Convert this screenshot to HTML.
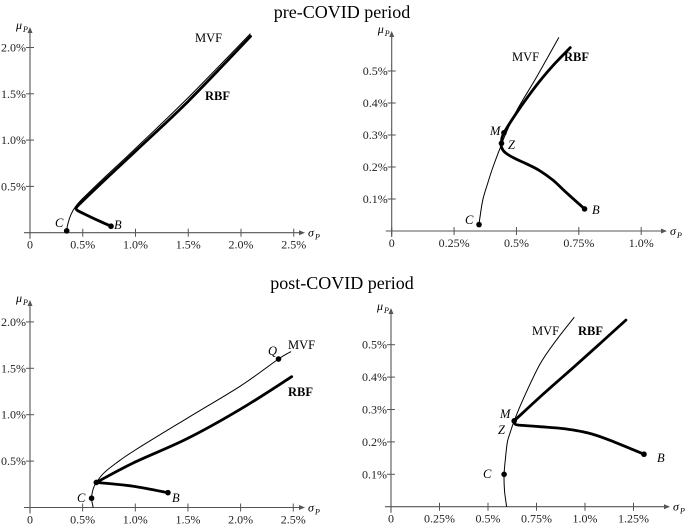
<!DOCTYPE html>
<html><head><meta charset="utf-8"><style>
html,body{margin:0;padding:0;background:#fff}
svg{display:block;font-family:"Liberation Serif",serif}
</style></head><body>
<svg id="c" width="685" height="527" viewBox="0 0 685 527">
<text x="342" y="18" text-anchor="middle" font-size="18">pre-COVID period</text>
<text x="342" y="289" text-anchor="middle" font-size="18">post-COVID period</text>
</svg>
<script>
// Panel data (% units): [sigma, mu]
const p1Mvf=[[0.348,0.02],[0.36,0.1],[0.39,0.2],[0.43,0.28],[0.5,0.37],[0.7,0.59],[1.0,0.91],[1.5,1.46],[2.09,2.15]];
const p1Rbf=[[0.768,0.07],[0.65,0.13],[0.52,0.2],[0.45,0.24],[0.436,0.26],[0.47,0.31],[0.7,0.56],[1.0,0.88],[1.5,1.42],[2.09,2.12]];
const p2Mvf=[[0.35,0.02],[0.355,0.05],[0.366,0.1],[0.385,0.15],[0.406,0.2],[0.44,0.27],[0.455,0.3],[0.5,0.375],[0.58,0.48],[0.67,0.605]];
const p2Rbf=[[0.773,0.069],[0.70,0.12],[0.646,0.159],[0.59,0.19],[0.54,0.21],[0.49,0.228],[0.455,0.245],[0.44,0.262],[0.44,0.28],[0.45,0.307],[0.51,0.38],[0.58,0.455],[0.65,0.52],[0.716,0.573]];
const p3Mvf=[[0.6,0],[0.585,0.1],[0.6,0.2],[0.63,0.27],[0.7,0.37],[0.82,0.48],[1.0,0.62],[1.49,0.96],[2.0,1.31],[2.36,1.6],[2.48,1.68]];
const p3Rbf=[[1.31,0.16],[0.98,0.23],[0.63,0.27],[0.98,0.48],[1.49,0.74],[2.0,1.06],[2.485,1.41]];
const p4Mvf=[[0.596,0],[0.585,0.05],[0.583,0.1],[0.59,0.15],[0.6,0.2],[0.615,0.23],[0.635,0.265],[0.68,0.33],[0.768,0.44],[0.86,0.52],[0.945,0.585]];
const p4Rbf=[[1.304,0.162],[1.15,0.2],[1.026,0.226],[0.9,0.24],[0.768,0.247],[0.66,0.252],[0.64,0.255],[0.635,0.265],[0.78,0.345],[0.94,0.43],[1.08,0.505],[1.211,0.576]];
const p1Dots=[[0.348,0.02],[0.768,0.07]];
const p2Dots=[[0.35,0.02],[0.773,0.069],[0.45,0.307],[0.44,0.274]];
const p3Dots=[[0.585,0.1],[1.31,0.16],[2.36,1.6],[0.63,0.27]];
const p4Dots=[[0.583,0.1],[1.304,0.162],[0.635,0.265]];
const p1XTicks=[0,0.5,1.0,1.5,2.0,2.5];
const p1XLabels=["0","0.5%","1.0%","1.5%","2.0%","2.5%"];
const p1YTicks=[0.5,1.0,1.5,2.0];
const p1YLabels=["0.5%","1.0%","1.5%","2.0%"];
const p2XTicks=[0,0.25,0.5,0.75,1.0];
const p2XLabels=["0","0.25%","0.5%","0.75%","1.0%"];
const p2YTicks=[0.1,0.2,0.3,0.4,0.5];
const p2YLabels=["0.1%","0.2%","0.3%","0.4%","0.5%"];
const p4XTicks=[0,0.25,0.5,0.75,1.0,1.25];
const p4XLabels=["0","0.25%","0.5%","0.75%","1.0%","1.25%"];

const NS="http://www.w3.org/2000/svg";
const svg=document.getElementById('c');
function mk(tag,attrs,parent){const e=document.createElementNS(NS,tag);for(const k in attrs)e.setAttribute(k,attrs[k]);(parent||svg).appendChild(e);return e;}
function txt(x,y,s,extra,parent){const t=mk('text',Object.assign({x:x,y:y},extra||{}),parent);t.textContent=s;return t;}
function smooth(p){
  let d='M'+p[0][0].toFixed(1)+','+p[0][1].toFixed(1);
  for(let i=0;i<p.length-1;i++){
    const a=p[Math.max(i-1,0)],b=p[i],c=p[i+1],e=p[Math.min(i+2,p.length-1)];
    const c1=[b[0]+(c[0]-a[0])/6,b[1]+(c[1]-a[1])/6],c2=[c[0]-(e[0]-b[0])/6,c[1]-(e[1]-b[1])/6];
    d+='C'+c1.map(v=>v.toFixed(1)).join(',')+' '+c2.map(v=>v.toFixed(1)).join(',')+' '+c.map(v=>v.toFixed(1)).join(',');
  }
  return d;
}

function panel(name,P,xt,xl,yt,yl,mvf,rbf,dots,labels,kink){
  const g=mk('g',{});
  
  
  const X=v=>P.x0+v*P.sx, Y=v=>P.y0-v*P.sy;
  const ax=mk('path',{d:`M${P.x0-6},${P.y0}H${P.xEnd}M${P.x0},${P.y0+6}V${P.yTop}`,stroke:'#555',fill:'none','stroke-width':1.1},g);
  
  
  mk('path',{d:`M${P.xEnd+5},${P.y0}l-6,-2.5v5z M${P.x0},${P.yTop-5}l-2.5,6h5z`,fill:'#555'},g);
  const xl1=txt(P.xEnd+8,P.y0+4,'σ',{'font-size':12,'font-style':'italic'},g);
  
  
  txt(P.xEnd+15,P.y0+7,'P',{'font-size':8,'font-style':'italic'},g);
  const yl1=txt(P.x0-14,P.yTop-3,'μ',{'font-size':12,'font-style':'italic'},g);
  
  
  txt(P.x0-7,P.yTop,'P',{'font-size':8,'font-style':'italic'},g);
  xt.forEach((v,i)=>{
    mk('line',{x1:X(v),x2:X(v),y1:P.y0-4,y2:P.y0+4,stroke:'#555'},g);
    const t=txt(X(v),P.y0+16,xl[i],{'font-size':12,'text-anchor':'middle',fill:'#222'},g);
    
    
  });
  yt.forEach((v,i)=>{
    mk('line',{x1:P.x0-4,x2:P.x0+4,y1:Y(v),y2:Y(v),stroke:'#555'},g);
    const t=txt(P.x0-4,Y(v)+4,yl[i],{'font-size':12,'text-anchor':'end',fill:'#222'},g);
    
    
  });
  const px=a=>a.map(p=>[X(p[0]),Y(p[1])]);
  const m=mk('path',{d:smooth(px(mvf)),stroke:'#000',fill:'none','stroke-width':1,'stroke-linejoin':'round'},g);
  
  
  // split RBF at kink so the corner stays sharp
  const pr=px(rbf);
  const d=kink?smooth(pr.slice(0,kink+1))+smooth(pr.slice(kink)):smooth(pr);
  const r=mk('path',{d:d,stroke:'#000',fill:'none','stroke-width':2.8,'stroke-linejoin':'round','stroke-linecap':'round'},g);
  
  
  dots.forEach(p=>{
    const c=mk('circle',{cx:X(p[0]),cy:Y(p[1]),r:2.8,fill:'#000'},g);
    
    
  });
  labels.forEach(l=>{
    const t=txt(l[0],l[1],l[2],{'font-size':12.5,'font-style':l[3]==='i'?'italic':'normal','font-weight':l[3]==='b'?'bold':'normal'},g);
    
    
  });
}
panel('panel-pre-wide',{x0:30,y0:232.7,sx:105.5,sy:92.6,xEnd:300,yTop:32},p1XTicks,p1XLabels,p1YTicks,p1YLabels,p1Mvf,p1Rbf,p1Dots,
  [[195,42,'MVF'],[205,100,'RBF','b'],[55,227,'C','i'],[114,229,'B','i']],4);
panel('panel-pre-zoom',{x0:391.7,y0:231,sx:249.5,sy:320,xEnd:662,yTop:36},p2XTicks,p2XLabels,p2YTicks,p2YLabels,p2Mvf,p2Rbf,p2Dots,
  [[512,61,'MVF'],[564,61,'RBF','b'],[490,135,'M','i'],[508,149,'Z','i'],[465,224,'C','i'],[592,214,'B','i']],0);
panel('panel-post-wide',{x0:30,y0:507.5,sx:105.3,sy:92.8,xEnd:300,yTop:305},p1XTicks,p1XLabels,p1YTicks,p1YLabels,p3Mvf,p3Rbf,p3Dots,
  [[268,355,'Q','i'],[288,349,'MVF'],[288,396,'RBF','b'],[77,502,'C','i'],[172,502,'B','i']],2);
panel('panel-post-zoom',{x0:391,y0:506.7,sx:194,sy:324,xEnd:665,yTop:313},p4XTicks,p4XLabels,p2YTicks,p2YLabels,p4Mvf,p4Rbf,p4Dots,
  [[532,335,'MVF'],[578,335,'RBF','b'],[500,418,'M','i'],[498,434,'Z','i'],[483,478,'C','i'],[657,462,'B','i']],7);
</script>
</body></html>
